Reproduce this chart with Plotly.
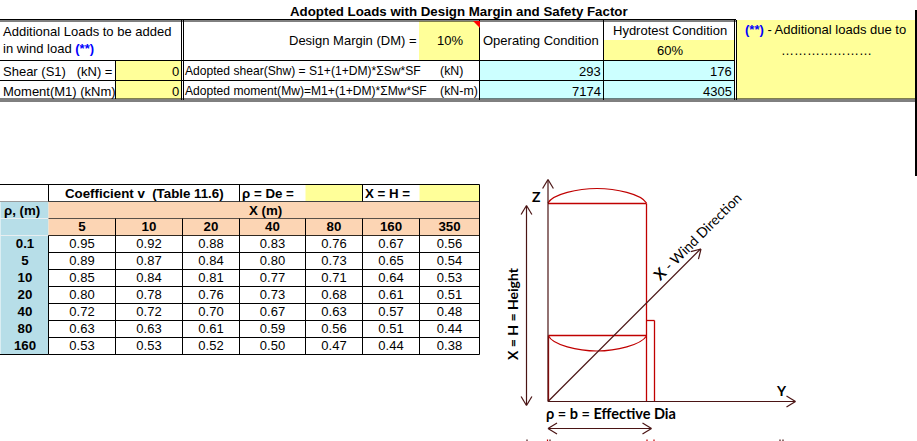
import plotly.graph_objects as go

# ----------------- DATA ----------------- #

title = "Adopted Loads with Design Margin and Safety Factor"

design_margin = "10%"
hydro_pct = "60%"
added_loads = ["0", "0"]
operating = ["293", "7174"]
hydrotest = ["176", "4305"]

x_headers = ["5", "10", "20", "40", "80", "160", "350"]
rho_rows = ["0.1", "5", "10", "20", "40", "80", "160"]
coeff = [
    ["0.95", "0.92", "0.88", "0.83", "0.76", "0.67", "0.56"],
    ["0.89", "0.87", "0.84", "0.80", "0.73", "0.65", "0.54"],
    ["0.85", "0.84", "0.81", "0.77", "0.71", "0.64", "0.53"],
    ["0.80", "0.78", "0.76", "0.73", "0.68", "0.61", "0.51"],
    ["0.72", "0.72", "0.70", "0.67", "0.63", "0.57", "0.48"],
    ["0.63", "0.63", "0.61", "0.59", "0.56", "0.51", "0.44"],
    ["0.53", "0.53", "0.52", "0.50", "0.47", "0.44", "0.38"],
]

# ----------------- LAYOUT GRID (page pixels) ----------------- #

col_edges = [48.5, 115.5, 182.5, 239.5, 305.5, 362.5, 419.5, 479.5]
row_edges = [184.5, 201.5, 218.5, 235.5, 252.5, 269.5, 286.5, 303.5, 320.5, 337.5, 354.5]

YELLOW = "#ffff99"
CYAN = "#ccffff"
ORANGE = "#fcd5b4"
BLUE = "#b7dee8"
RED = "#c00000"
MAROON = "#4a1414"
FONT = "Liberation Sans"
DIAG = "Lato"

shapes = []
notes = []


def box(x0, y0, x1, y1, color):
    shapes.append(dict(type="rect", x0=x0, y0=y0, x1=x1, y1=y1, fillcolor=color,
                       line_width=0, layer="below"))


def seg(x0, y0, x1, y1, color="black", w=1):
    shapes.append(dict(type="line", x0=x0, y0=y0, x1=x1, y1=y1, line=dict(color=color, width=w)))


def label(x, y, text, anchor="center", size=13, bold=False, color="black", font=FONT, angle=0):
    if bold:
        text = "<b>" + text + "</b>"
    notes.append(dict(x=x, y=y, text=text, showarrow=False, xanchor=anchor, yanchor="middle",
                      textangle=angle, font=dict(family=font, size=size, color=color)))


def chevron(tip_x, tip_y, dx, dy, size=9, color=MAROON):
    # open arrow head pointing along (dx, dy)
    n = (dx * dx + dy * dy) ** 0.5
    ux, uy = dx / n, dy / n
    for s in (1, -1):
        seg(tip_x, tip_y, tip_x - size * ux - s * 0.6 * size * uy,
            tip_y - size * uy + s * 0.6 * size * ux, color, 1.2)


# ----------------- TOP TABLE ----------------- #

box(116, 61, 181, 99, YELLOW)
box(419, 21, 479, 60, YELLOW)
box(604, 40, 734, 60, YELLOW)
box(480, 61, 603, 99, CYAN)
box(604, 61, 734, 99, CYAN)
box(736, 20, 915, 99, YELLOW)

label(459, 11, title, bold=True, size=13.3)

seg(0, 19.5, 736, 19.5)
seg(0, 21, 736, 21)
seg(0, 60.5, 734.5, 60.5)
seg(0, 80.5, 734.5, 80.5)
seg(0, 99, 915, 99)
seg(0, 101, 915, 101)
seg(115.5, 60.5, 115.5, 99)
seg(181.5, 20, 181.5, 100)
seg(183.5, 20, 183.5, 100)
seg(479.5, 20, 479.5, 100)
seg(603.5, 20, 603.5, 100)
seg(734.5, 20, 734.5, 100)
seg(736.5, 20, 736.5, 100)
seg(916, 10, 916, 176, w=2)
shapes.append(dict(type="path", path="M 473,21 L 480,21 L 480,28 Z", fillcolor="#ff0000", line_width=0))

label(1, 31.5, "Additional Loads to be added", "left")
label(1, 48.5, 'in wind load <span style="color:#0000ff"><b>(**)</b></span>', "left")
label(1, 71, "Shear (S1)   (kN) =", "left")
label(1, 91, "Moment(M1) (kNm)", "left")
label(180.5, 71, added_loads[0], "right")
label(180.5, 91, added_loads[1], "right")
label(419, 40, "Design Margin (DM) =", "right")
label(450, 40, design_margin)
label(183, 71, "Adopted shear(Shw) = S1+(1+DM)*ΣSw*SF", "left", size=12.1)
label(438, 71, "(kN)", "left", size=12.4)
label(183, 91, "Adopted moment(Mw)=M1+(1+DM)*ΣΜw*SF", "left", size=12.1)
label(438, 91, "(kN-m)", "left", size=12.4)
label(541, 40, "Operating Condition")
label(670, 30, "Hydrotest Condition")
label(670, 50, hydro_pct)
label(602.5, 71, operating[0], "right")
label(602.5, 91, operating[1], "right")
label(734, 71, hydrotest[0], "right")
label(734, 91, hydrotest[1], "right")
label(743, 29, '<span style="color:#0000ff"><b>(**)</b></span> - Additional loads due to', "left")
label(826, 50, "…………………")

# ----------------- COEFFICIENT TABLE ----------------- #

box(0.5, row_edges[1], col_edges[0], row_edges[-1], BLUE)
box(col_edges[0], row_edges[1], col_edges[-1], row_edges[3], ORANGE)
box(col_edges[4], row_edges[0], col_edges[5], row_edges[1], YELLOW)
box(col_edges[6], row_edges[0], col_edges[7], row_edges[1], YELLOW)

seg(0, row_edges[0], col_edges[-1], row_edges[0])
seg(0, row_edges[1], col_edges[0], row_edges[1], "#9a9a9a")
seg(col_edges[0], row_edges[1], col_edges[-1], row_edges[1], "#404040")
seg(0, row_edges[2], col_edges[0], row_edges[2], "#e8eef0")
seg(col_edges[0], row_edges[2], col_edges[-1], row_edges[2], "#5a5048")
seg(0, row_edges[3], col_edges[0], row_edges[3], "#e8eef0")
seg(col_edges[0], row_edges[3], col_edges[-1], row_edges[3], "#302820")
for y in row_edges[4:]:
    seg(col_edges[0], y, col_edges[-1], y)
seg(0, row_edges[-1], col_edges[0], row_edges[-1])
seg(col_edges[0], row_edges[0], col_edges[0], row_edges[1])
seg(col_edges[0], row_edges[3], col_edges[0], row_edges[-1])
seg(col_edges[3], row_edges[0], col_edges[3], row_edges[1])
seg(col_edges[5], row_edges[0], col_edges[5], row_edges[1])
seg(col_edges[-1], row_edges[0], col_edges[-1], row_edges[-1])
for x in col_edges[1:-1]:
    seg(x, row_edges[2], x, row_edges[-1])

label(144, 193, "Coefficient v  (Table 11.6)", bold=True, size=13.3)
label(240, 193.5, "ρ = De =", "left", bold=True, size=13.3)
label(363, 193, "X = H =", "left", bold=True, size=13.3)
label(1.5, 210.5, "ρ, (m)", "left", bold=True, size=13.3)
label((col_edges[0] + col_edges[-1]) / 2 + 1, 210.5, "X (m)", bold=True, size=13.3)

centers = [(col_edges[i] + col_edges[i + 1]) / 2 for i in range(len(x_headers))]
row_centers = [(row_edges[i] + row_edges[i + 1]) / 2 + 1 for i in range(3, len(row_edges) - 1)]

table_x = []
table_y = []
table_text = []
for r, row in enumerate(coeff):
    for c, v in enumerate(row):
        table_x.append(centers[c])
        table_y.append(row_centers[r])
        table_text.append(v)

traces = [
    go.Scatter(x=table_x, y=table_y, text=table_text, mode="text",
               textfont=dict(family=FONT, size=13, color="black"), hoverinfo="skip"),
    go.Scatter(x=centers, y=[228] * len(centers), text=["<b>" + v + "</b>" for v in x_headers],
               mode="text", textfont=dict(family=FONT, size=13.3, color="black"), hoverinfo="skip"),
    go.Scatter(x=[25] * len(rho_rows), y=row_centers, text=["<b>" + v + "</b>" for v in rho_rows], mode="text",
               textfont=dict(family=FONT, size=13.3, color="black"), hoverinfo="skip"),
]

# ----------------- VESSEL SKETCH ----------------- #

seg(548, 203.5, 646.5, 203.5, RED, 1.3)
seg(646.5, 203.5, 646.5, 401, RED, 1.3)
seg(548.5, 335.5, 646.5, 335.5, RED, 1.3)
seg(548.5, 335.5, 548.5, 401, RED, 1.3)
seg(646.5, 320.5, 654.5, 320.5, RED, 1.3)
seg(654.5, 320.5, 654.5, 401, RED, 1.3)
for p in ("M 548,203 C 553,194 578,188.5 597,188.5 C 616,188.5 641,194 646.5,203",
          "M 548.5,336 C 553,345 578,351 597,351 C 616,351 641,345 646.5,336"):
    shapes.append(dict(type="path", path=p, line=dict(color=RED, width=1.2)))

seg(548, 180, 548, 401.5, MAROON, 1.2)
chevron(548, 179.5, 0, -1)
seg(548, 401.5, 795, 401.5, MAROON, 1.2)
chevron(795.5, 401.5, 1, 0)
seg(548, 401.5, 700.5, 249, MAROON, 1.2)
chevron(701, 249, 1, -1)
seg(526.5, 206, 526.5, 405, MAROON, 1.2)
chevron(526.5, 205.5, 0, -1)
chevron(526.5, 405.5, 0, 1)
seg(548.5, 428.5, 651, 428.5, MAROON, 1.2)
chevron(548, 428.5, -1, 0)
chevron(651.5, 428.5, 1, 0)

# clipped marks along the bottom edge of the screenshot
for x, color in [(527, MAROON), (547.5, RED), (550, MAROON), (647, RED), (654, RED), (780, MAROON), (783, MAROON)]:
    seg(x, 439.5, x, 441, color, 1.2)

label(536.5, 196, "Z", bold=True, size=14, font=DIAG)
label(781, 390, "Y", bold=True, size=14, font=DIAG)
label(512, 314, "X = H = Height", bold=True, size=14, font=DIAG, angle=-90)
label(611, 413, "ρ = b = Effective Dia", bold=True, size=14.5, font=DIAG)
label(697, 236, '<b style="font-size:15px">X</b> - Wind Direction', size=14, font=DIAG, angle=-45)

# ----------------- FIGURE ----------------- #

fig = go.Figure(traces)
fig.update_layout(
    width=917, height=441, margin=dict(l=0, r=0, t=0, b=0),
    paper_bgcolor="white", plot_bgcolor="white", showlegend=False,
    xaxis=dict(range=[0, 917], visible=False, fixedrange=True),
    yaxis=dict(range=[441, 0], visible=False, fixedrange=True),
    shapes=shapes, annotations=notes,
)
fig.write_html("out.html", config={"displayModeBar": False},
               post_script="document.body.style.margin='0';")
